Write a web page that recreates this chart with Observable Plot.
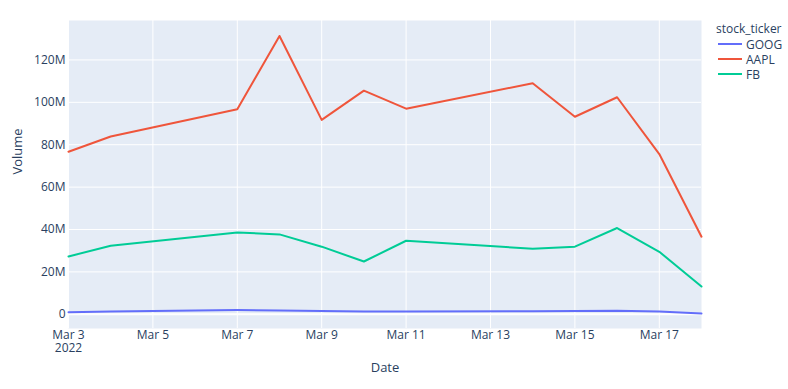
<!DOCTYPE html>
<html>
<head>
<meta charset="utf-8">
<script src="https://cdn.jsdelivr.net/npm/d3@7"></script>
<script src="https://cdn.jsdelivr.net/npm/@observablehq/plot@0.6"></script>
<style>
  html, body { margin: 0; padding: 0; background: #fff; }
  #wrap { position: relative; width: 788px; height: 389px; font-family: "Open Sans", verdana, arial, sans-serif; }
  #legend { position: absolute; left: 716px; top: 20px; font-size: 12px; color: #2a3f5f; }
  #legend .title { height: 17px; line-height: 17px; }
  #legend .item { position: relative; height: 15px; line-height: 15px; padding-left: 30px; }
  #legend .item span.sw { position: absolute; left: 2px; top: 6px; width: 24px; height: 2px; }
</style>
</head>
<body>
<div id="wrap"><div id="chart"></div><div id="legend"></div></div>
<script>
const dates = ["2022-03-03","2022-03-04","2022-03-07","2022-03-08","2022-03-09","2022-03-10","2022-03-11","2022-03-14","2022-03-15","2022-03-16","2022-03-17","2022-03-18"];
const tickers = ["GOOG","AAPL","FB"];
const colors = ["#636efa","#EF553B","#00cc96"];
const goog = [1.0, 1.3, 2.0, 1.8, 1.6, 1.3, 1.3, 1.4, 1.6, 1.7, 1.3, 0.4];
const aapl = [76.7, 83.9, 96.7, 131.3, 91.7, 105.5, 97.0, 109.0, 93.2, 102.4, 75.6, 36.6];
const fb   = [27.3, 32.3, 38.6, 37.7, 31.9, 24.9, 34.7, 30.9, 31.9, 40.7, 29.5, 13.1];
const yTicks = [0, 20e6, 40e6, 60e6, 80e6, 100e6, 120e6];
const xTickDates = ["2022-03-03","2022-03-05","2022-03-07","2022-03-09","2022-03-11","2022-03-13","2022-03-15","2022-03-17"];

const series = {GOOG: goog, AAPL: aapl, FB: fb};
const data = [];
for (const t of tickers) {
  series[t].forEach((v, i) => data.push({date: new Date(dates[i] + "T00:00:00Z"), volume: v * 1e6, ticker: t}));
}
const xTicks = xTickDates.map(d => new Date(d + "T00:00:00Z"));
const months = ["Jan","Feb","Mar","Apr","May","Jun","Jul","Aug","Sep","Oct","Nov","Dec"];

const chart = Plot.plot({
  width: 788,
  height: 389,
  marginLeft: 68,
  marginRight: 87,
  marginTop: 20,
  marginBottom: 61,
  style: {fontFamily: '"Open Sans", verdana, arial, sans-serif', fontSize: "12px", color: "#2a3f5f", background: "#fff"},
  x: {type: "utc", domain: [new Date(dates[0] + "T00:00:00Z"), new Date(dates[dates.length - 1] + "T00:00:00Z")]},
  y: {domain: [-6.7e6, 138.6e6]},
  color: {domain: tickers, range: colors},
  marks: [
    Plot.frame({fill: "#E5ECF6", stroke: null}),
    Plot.gridX(xTicks, {stroke: "#fff", strokeOpacity: 1, strokeWidth: 1}),
    Plot.gridY(yTicks, {stroke: "#fff", strokeOpacity: 1, strokeWidth: 1}),
    Plot.ruleY([0], {stroke: "#fff", strokeWidth: 2}),
    Plot.axisX(xTicks, {tickSize: 0, tickPadding: 2, fontSize: 12, fill: "#2a3f5f", label: null, lineHeight: 1.05,
      tickFormat: (d, i) => months[d.getUTCMonth()] + " " + d.getUTCDate() + (i === 0 ? "\n" + d.getUTCFullYear() : "")}),
    Plot.axisY(yTicks, {tickSize: 0, tickPadding: 3, fontSize: 12, fill: "#2a3f5f", label: null,
      tickFormat: d => d === 0 ? "0" : (d / 1e6) + "M"}),
    Plot.lineY(data, {x: "date", y: "volume", z: "ticker", stroke: "ticker", strokeWidth: 2}),
    Plot.text(["Date"], {frameAnchor: "bottom", dy: 43, fontSize: 13, fill: "#2a3f5f"}),
    Plot.text(["Volume"], {frameAnchor: "left", dx: -51, rotate: -90, fontSize: 13, fill: "#2a3f5f"})
  ]
});
document.getElementById("chart").appendChild(chart);

const legend = document.getElementById("legend");
const title = document.createElement("div");
title.className = "title";
title.textContent = "stock_ticker";
legend.appendChild(title);
tickers.forEach((t, i) => {
  const item = document.createElement("div");
  item.className = "item";
  const sw = document.createElement("span");
  sw.className = "sw";
  sw.style.background = colors[i];
  item.appendChild(sw);
  item.appendChild(document.createTextNode(t));
  legend.appendChild(item);
});
</script>
</body>
</html>
